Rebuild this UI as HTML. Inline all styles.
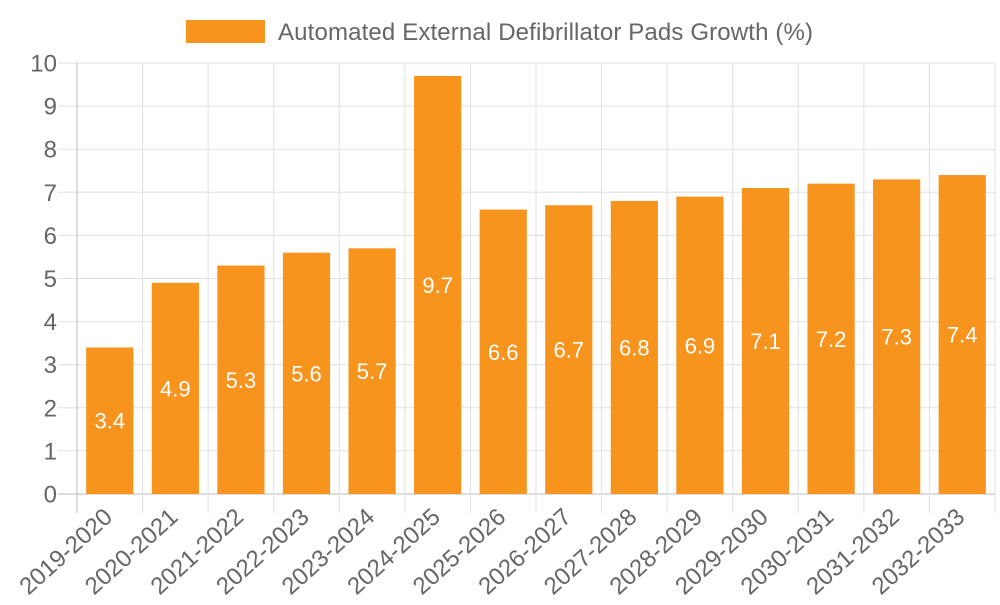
<!DOCTYPE html>
<html><head><meta charset="utf-8"><style>
body{margin:0;background:#fff;}
svg text{font-family:"Liberation Sans",sans-serif;}
</style></head><body>
<svg id="chart" width="1000" height="600"></svg>
<script>
const categories=["2019-2020","2020-2021","2021-2022","2022-2023","2023-2024","2024-2025","2025-2026","2026-2027","2027-2028","2028-2029","2029-2030","2030-2031","2031-2032","2032-2033"];
const growthValues=[3.4,4.9,5.3,5.6,5.7,9.7,6.6,6.7,6.8,6.9,7.1,7.2,7.3,7.4];
const yTicks=[0,1,2,3,4,5,6,7,8,9,10];
const seriesLabel="Automated External Defibrillator Pads Growth (%)";

const svg=document.getElementById('chart');
const NS="http://www.w3.org/2000/svg";
const L=77,R=995,T=63,B=494,yMax=10;
const band=(R-L)/categories.length;
const yScale=v=>B-(v/yMax)*(B-T);
const xScale=i=>L+band*i;
function mk(tag,attrs,parent){const e=document.createElementNS(NS,tag);for(const k in attrs)e.setAttribute(k,attrs[k]);(parent||svg).appendChild(e);return e;}

const grid=mk('g',{});


yTicks.forEach(t=>{
  const y=yScale(t);
  mk('line',{x1:58,x2:R,y1:y,y2:y,stroke:t===0?'#bbb':'#e0e0e0','stroke-width':1},grid);
  const tx=mk('text',{x:57,y:y+8.5,'text-anchor':'end','font-size':24,fill:'#666'});
  tx.textContent=t;
  
  
});
for(let i=0;i<=categories.length;i++){
  const x=xScale(i);
  mk('line',{x1:x,x2:x,y1:T,y2:513,stroke:i===0?'#bbb':'#e0e0e0','stroke-width':1},grid);
}
categories.forEach((c,i)=>{
  const cx=xScale(i)+band/2;
  const bw=band*0.72;
  const v=growthValues[i];
  const r=mk('rect',{x:cx-bw/2,y:yScale(v),width:bw,height:B-yScale(v),fill:'#f7941e'});
  
  
  const vl=mk('text',{x:cx,y:(yScale(v)+B)/2+8,'text-anchor':'middle','font-size':22,fill:'#fff'});
  vl.textContent=v;
  
  
  const xl=mk('text',{x:0,y:0,'text-anchor':'end','font-size':24,fill:'#666',transform:`translate(${cx+4},${519}) rotate(-42)`});
  xl.textContent=c;
  
  
});
const lg=mk('g',{});


mk('rect',{x:186,y:20,width:79,height:23,fill:'#f7941e'},lg);
const lt=mk('text',{x:278,y:40,'font-size':24,fill:'#666',textLength:535},lg);
lt.textContent=seriesLabel;
</script>
</body></html>
